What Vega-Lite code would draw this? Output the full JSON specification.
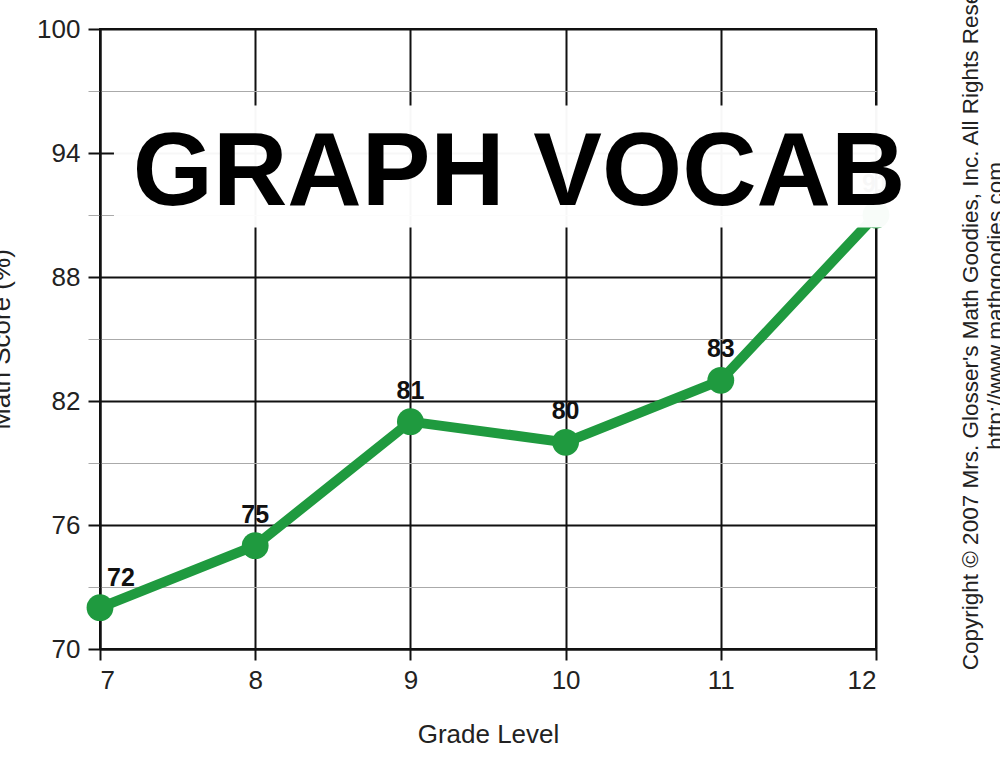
{
  "$schema": "https://vega.github.io/schema/vega-lite/v6.json",
  "width": 776,
  "height": 620,
  "autosize": {"type": "none"},
  "padding": {"left": 100, "top": 29, "right": 124, "bottom": 115},
  "background": "white",
  "config": {
    "font": "Liberation Sans",
    "view": {"stroke": "#111", "strokeWidth": 2},
    "axis": {
      "labelFont": "Liberation Sans",
      "labelFontSize": 26,
      "labelColor": "#222",
      "titleFont": "Liberation Sans",
      "titleFontSize": 26,
      "titleFontWeight": "normal",
      "titleColor": "#222",
      "domainColor": "#111",
      "domainWidth": 2,
      "tickColor": "#111",
      "tickWidth": 2
    }
  },
  "layer": [
    {
      "data": {
        "values": [
          {"grade": 7, "score": 72},
          {"grade": 8, "score": 75},
          {"grade": 9, "score": 81},
          {"grade": 10, "score": 80},
          {"grade": 11, "score": 83},
          {"grade": 12, "score": 91}
        ]
      },
      "encoding": {
        "x": {
          "field": "grade",
          "type": "quantitative",
          "scale": {"domain": [7, 12], "nice": false, "zero": false},
          "axis": {
            "title": "Grade Level",
            "values": [7, 8, 9, 10, 11, 12],
            "format": "d",
            "tickSize": 11,
            "labelPadding": 7,
            "titlePadding": 28,
            "gridColor": "#111",
            "gridWidth": 2
          }
        },
        "y": {
          "field": "score",
          "type": "quantitative",
          "scale": {"domain": [70, 100], "nice": false, "zero": false},
          "axis": {
            "title": "Math Score (%)",
            "values": [70, 73, 76, 79, 82, 85, 88, 91, 94, 97, 100],
            "labelExpr": "datum.value % 6 === 4 ? datum.label : ''",
            "labelPadding": 8,
            "titlePadding": 22,
            "tickSize": 12,
            "tickColor": {"condition": {"test": "datum.value % 6 === 4", "value": "#111"}, "value": "#aaa"},
            "tickWidth": {"condition": {"test": "datum.value % 6 === 4", "value": 2}, "value": 1},
            "gridColor": {"condition": {"test": "datum.value % 6 === 4", "value": "#111"}, "value": "#aaa"},
            "gridWidth": {"condition": {"test": "datum.value % 6 === 4", "value": 2}, "value": 1}
          }
        }
      },
      "layer": [
        {"mark": {"type": "line", "color": "#1f9a3f", "strokeWidth": 10}},
        {"mark": {"type": "circle", "color": "#1f9a3f", "size": 720, "opacity": 1}},
        {
          "transform": [{"filter": "datum.grade !== 7"}],
          "mark": {"type": "text", "dy": -23, "baseline": "alphabetic", "fontSize": 25, "fontWeight": "bold", "color": "#111"},
          "encoding": {"text": {"field": "score", "type": "quantitative"}}
        },
        {
          "transform": [{"filter": "datum.grade === 7"}],
          "mark": {"type": "text", "dx": 21, "dy": -22, "baseline": "alphabetic", "fontSize": 25, "fontWeight": "bold", "color": "#111"},
          "encoding": {"text": {"field": "score", "type": "quantitative"}}
        }
      ]
    },
    {
      "data": {"values": [{"label": "GRAPH VOCAB"}]},
      "mark": {"type": "rect", "color": "white", "opacity": 0.97},
      "encoding": {
        "x": {"datum": 7.09, "type": "quantitative"},
        "x2": {"datum": 12.19},
        "y": {"datum": 96.3, "type": "quantitative"},
        "y2": {"datum": 90.4}
      }
    },
    {
      "data": {"values": [{"label": "GRAPH VOCAB"}]},
      "mark": {"type": "text", "fontSize": 103, "fontWeight": "bold", "baseline": "alphabetic", "align": "center", "color": "#000"},
      "encoding": {
        "x": {"datum": 9.7, "type": "quantitative"},
        "y": {"datum": 91.5, "type": "quantitative"},
        "text": {"field": "label"}
      }
    },
    {
      "data": {"values": [{"label": "Copyright"}]},
      "mark": {
        "type": "text",
        "text": ["Copyright © 2007 Mrs. Glosser's Math Goodies, Inc. All Rights Reserved.", "http://www.mathgoodies.com"],
        "angle": 270,
        "align": "center",
        "baseline": "alphabetic",
        "fontSize": 22.5,
        "lineHeight": 25,
        "color": "#222"
      },
      "encoding": {
        "x": {"datum": 12.655, "type": "quantitative"},
        "y": {"datum": 86.6, "type": "quantitative"}
      }
    }
  ]
}
